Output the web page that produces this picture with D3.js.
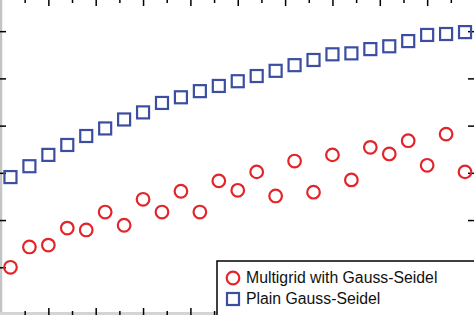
<!DOCTYPE html>
<html>
<head>
<meta charset="utf-8">
<script src="https://cdn.jsdelivr.net/npm/d3@7"></script>
<style>
  body { margin: 0; background: #fff; }
  svg { display: block; }
  .tick line { stroke: #000; stroke-width: 1.5; }
</style>
</head>
<body>
<div id="chart"></div>
<script>
// iteration positions (x axis units)
var iterations = d3.range(25).map(i => 2 + 4 * i);

// series values (y axis units)
var multigridGS = [1.00, 1.43, 1.47, 1.83, 1.79, 2.17, 1.89, 2.44, 2.17, 2.61,
  2.17, 2.83, 2.63, 3.02, 2.51, 3.25, 2.59, 3.38, 2.85, 3.54,
  3.40, 3.68, 3.16, 3.82, 3.02];
var plainGS = [2.91, 3.14, 3.38, 3.59, 3.78, 3.94, 4.13, 4.28, 4.48, 4.60,
  4.73, 4.84, 4.94, 5.05, 5.16, 5.28, 5.39, 5.51, 5.53, 5.62,
  5.68, 5.79, 5.92, 5.94, 5.98];

var xMajor = [10, 20, 30, 40, 50, 60, 70, 80, 90];
var xMinor = [5, 15, 25, 35, 45, 55, 65, 75, 85, 95];
var yMajor = [1, 2, 3, 4, 5, 6];

var legendNames = ["Multigrid with Gauss-Seidel", "Plain Gauss-Seidel"];

var width = 474, height = 315;
var red = "#e3242b", blue = "#3b4ea0";

var svg = d3.select("#chart").append("svg")
  .attr("width", width)
  .attr("height", height);

var x = d3.scaleLinear().domain([0, 100]).range([1, 474.5]);
var y = d3.scaleLinear().domain([0, 6.66]).range([314.5, 0]);

// faint frame edges (left and bottom) that show inside the crop
svg.append("line")
  .attr("x1", 1).attr("x2", 1).attr("y1", 0).attr("y2", height)
  .attr("stroke", "#c4c4c4").attr("stroke-width", 2.5);
svg.append("line")
  .attr("x1", 0).attr("x2", width).attr("y1", 313.5).attr("y2", 313.5)
  .attr("stroke", "#d4d4d4").attr("stroke-width", 3);

function tickAxis(axis, vals, size, transform) {
  var g = svg.append("g")
    .attr("transform", transform)
    .call(axis.tickValues(vals).tickSize(-size).tickFormat(""));
  g.select(".domain").remove();
}

tickAxis(d3.axisTop(x), xMajor, 6, "translate(0,0)");
tickAxis(d3.axisTop(x), xMinor, 3, "translate(0,0)");
tickAxis(d3.axisBottom(x), xMajor, 7, "translate(0,315)");
tickAxis(d3.axisBottom(x), xMinor, 4, "translate(0,315)");
tickAxis(d3.axisLeft(y), yMajor, 6, "translate(0,0)");
tickAxis(d3.axisRight(y), yMajor, 6, "translate(474,0)");

// plain Gauss-Seidel: open squares
var s = 12;
svg.append("g").selectAll("rect")
  .data(plainGS)
  .join("rect")
  .attr("x", (d, i) => x(iterations[i]) - s / 2)
  .attr("y", d => y(d) - s / 2)
  .attr("width", s).attr("height", s)
  .attr("fill", "none")
  .attr("stroke", blue)
  .attr("stroke-width", 2.2);

// multigrid with Gauss-Seidel: open circles
svg.append("g").selectAll("circle")
  .data(multigridGS)
  .join("circle")
  .attr("cx", (d, i) => x(iterations[i]))
  .attr("cy", d => y(d))
  .attr("r", 6.3)
  .attr("fill", "none")
  .attr("stroke", red)
  .attr("stroke-width", 2.2);

// legend
var lg = svg.append("g").attr("transform", "translate(217,261)");
lg.append("rect")
  .attr("x", 0).attr("y", 0)
  .attr("width", 270).attr("height", 80)
  .attr("fill", "#fff")
  .attr("stroke", "#000")
  .attr("stroke-width", 1.5);
lg.append("circle")
  .attr("cx", 16).attr("cy", 17).attr("r", 6.3)
  .attr("fill", "none").attr("stroke", red).attr("stroke-width", 2.2);
lg.append("rect")
  .attr("x", 10).attr("y", 32).attr("width", 12).attr("height", 12)
  .attr("fill", "none").attr("stroke", blue).attr("stroke-width", 2.2);
lg.selectAll("text")
  .data(legendNames)
  .join("text")
  .attr("x", 29)
  .attr("y", (d, i) => 21.5 + i * 21)
  .attr("font-family", "Liberation Sans, Arial, sans-serif")
  .attr("font-size", 15.8)
  .attr("fill", "#111")
  .text(d => d);
</script>
</body>
</html>
